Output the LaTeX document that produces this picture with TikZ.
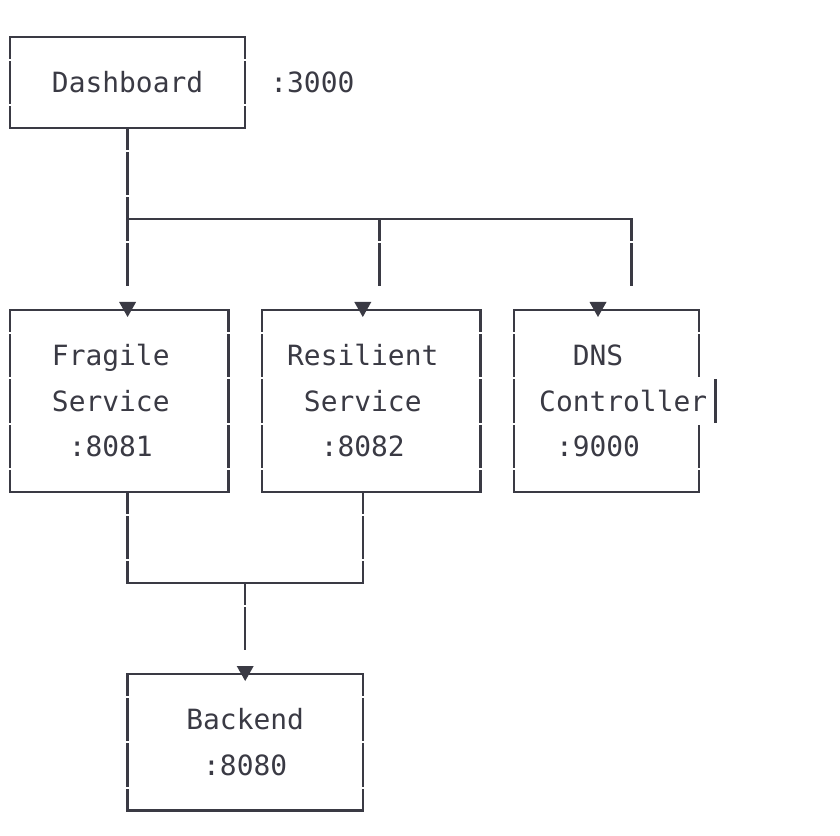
\documentclass[tikz,border=0pt]{standalone}
\usepackage{fontspec}
\newfontfamily\asciimono{DejaVu Sans Mono}
\usetikzlibrary{positioning}
\definecolor{ink}{RGB}{58,58,68}

\begin{document}
\begin{tikzpicture}[
    x = 16.8pt, y = -45.5pt,
    color = ink, line width = 2.4pt,
    box/.style    = {draw, inner sep=0pt, outer sep=0pt, align=left,
                     font=\asciimono\fontsize{27.9}{45.5}\selectfont},
    port/.style   = {inner sep=0pt, outer sep=0pt,
                     font=\asciimono\fontsize{27.9}{45.5}\selectfont},
    rowgap/.style = {draw=white, line width=2pt},
]
\useasboundingbox (-0.595,-0.813) rectangle (49.405,17.56);

% --- dashboard ---
\node[box, minimum width=235.2pt, minimum height=91pt, text width=151.2pt]
    (dash) at (7,1) {Dashboard};
\node[port, right=25.2pt of dash] (dashport) {:3000};

% --- services ---
\node[box, minimum width=218.4pt, minimum height=182pt, text width=134.4pt]
    (frag) at (6.5,8) {Fragile\\Service\\\phantom{F}:8081};
\node[box, minimum width=218.4pt, minimum height=182pt, text width=168pt]
    (resil) at (21.5,8) {Resilient\\\phantom{R}Service\\\phantom{Re}:8082};
\node[box, draw=none, minimum width=184.8pt, minimum height=182pt, text width=134.4pt]
    (dns) at (35.5,8) {\phantom{Co}DNS\\Controller\\\phantom{C}:9000};

% dns border, right side pushed out by the long line
\draw (dns.north east) ++(0,1.5) -- (dns.north east) -- (dns.north west)
    -- (dns.south west) -- (dns.south east) -- ++(0,-1.5);
\draw ([xshift=16.8pt]dns.east) ++(0,-0.5) -- ++(0,1);

% --- backend ---
\node[box, minimum width=235.2pt, minimum height=136.5pt, text width=117.6pt]
    (back) at (14,15.5) {Backend\\\phantom{B}:8080};

% --- fan out ---
\coordinate (j1) at (7,4);
\coordinate (j2) at (22,4);
\coordinate (j3) at (37,4);
\coordinate (d1) at (7,5.5);
\coordinate (d2) at (22,5.5);
\coordinate (d3) at (37,5.5);

\draw (dash.south) -- (d1);
\draw (j1) -- (j3) -- (d3);
\draw (j2) -- (d2);

% --- fan in ---
\coordinate (m1) at (7,12);
\coordinate (m2) at (21,12);
\coordinate (m3) at (14,12);
\coordinate (d4) at (14,13.5);

\draw (frag.south -| m1) -- (m1) -- (m2) -- (resil.south -| m2);
\draw (m3) -- (d4);

% --- arrow heads on box tops ---
\foreach \c/\r in {7/6, 21/6, 35/6, 14/14}
    \fill (\c,\r) +(-8.5pt,8pt) -- +(8.5pt,8pt) -- +(0pt,-7pt) -- cycle;

% --- gaps between text rows ---
\foreach \r in {0,...,16}
    \draw[rowgap] (-0.6,\r+0.5) -- (49.4,\r+0.5);

\end{tikzpicture}
\end{document}
